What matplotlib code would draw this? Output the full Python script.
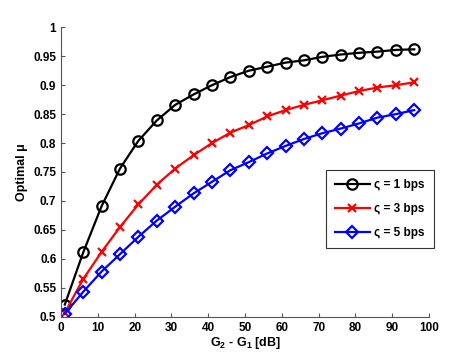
import numpy as np
import matplotlib
matplotlib.use("Agg")
import matplotlib.pyplot as plt

plt.rcParams['font.family'] = ['Liberation Sans', 'DejaVu Sans']
plt.rcParams['font.weight'] = 'bold'
plt.rcParams['mathtext.fontset'] = 'custom'
plt.rcParams['mathtext.rm'] = 'Liberation Sans:bold'
plt.rcParams['mathtext.it'] = 'Liberation Sans:bold'
plt.rcParams['mathtext.bf'] = 'Liberation Sans:bold'
plt.rcParams['mathtext.default'] = 'rm'

# gain difference in dB
gdiff = [1, 6, 11, 16, 21, 26, 31, 36, 41, 46, 51, 56, 61, 66, 71, 76, 81, 86, 91, 96]

mu_1bps = [0.521, 0.611, 0.691, 0.756, 0.804, 0.839, 0.866, 0.884, 0.900, 0.914,
           0.925, 0.932, 0.939, 0.943, 0.949, 0.953, 0.956, 0.958, 0.961, 0.962]
mu_3bps = [0.507, 0.565, 0.612, 0.655, 0.694, 0.728, 0.756, 0.779, 0.800, 0.818,
           0.831, 0.846, 0.857, 0.866, 0.874, 0.882, 0.890, 0.896, 0.900, 0.905]
mu_5bps = [0.505, 0.543, 0.578, 0.608, 0.638, 0.666, 0.690, 0.713, 0.733, 0.753,
           0.767, 0.782, 0.795, 0.807, 0.817, 0.825, 0.834, 0.844, 0.850, 0.857]

labels = ['ς = 1 bps', 'ς = 3 bps', 'ς = 5 bps']
yticks = [0.5, 0.55, 0.6, 0.65, 0.7, 0.75, 0.8, 0.85, 0.9, 0.95, 1]
ytick_labels = ['0.5', '0.55', '0.6', '0.65', '0.7', '0.75', '0.8', '0.85', '0.9', '0.95', '1']

fig = plt.figure(figsize=(4.74, 3.55), dpi=100)
ax = fig.add_axes([0.129, 0.108, 0.776, 0.815])

ax.plot(gdiff, mu_1bps, '-o', color='black', lw=1.6, ms=7.5, mfc='none', mew=1.6, label=labels[0])
ax.plot(gdiff, mu_3bps, '-x', color='red', lw=1.6, ms=6, mew=1.6, label=labels[1])
ax.plot(gdiff, mu_5bps, '-D', color='blue', lw=1.6, ms=6.5, mfc='none', mew=1.6, label=labels[2])

ax.set_xlim(0, 100)
ax.set_ylim(0.5, 1)
ax.set_xticks(np.arange(0, 101, 10))
ax.set_xticklabels([str(v) for v in range(0, 101, 10)], fontweight='bold', fontsize=8.5)
ax.set_yticks(yticks)
ax.set_yticklabels(ytick_labels, fontweight='bold', fontsize=8.5)
ax.tick_params(direction='in', length=3, color='#555555', width=0.8)
ax.spines['top'].set_visible(False)
ax.spines['right'].set_visible(False)
ax.spines['left'].set_color('#555555')
ax.spines['bottom'].set_color('#555555')

ax.set_xlabel('G$_2$ - G$_1$ [dB]', fontsize=9, fontweight='bold', labelpad=1)
ax.set_ylabel('Optimal μ', fontsize=9, fontweight='bold', labelpad=4)

leg = ax.legend(loc='upper left', bbox_to_anchor=(0.71, 0.52), fontsize=8.5, frameon=True,
                fancybox=False, edgecolor='black', handlelength=2.9, borderpad=0.8,
                labelspacing=1.0, handletextpad=0.4, borderaxespad=0.3,
                prop={'weight': 'bold', 'size': 8.5})
leg.get_frame().set_linewidth(0.8)

plt.savefig('out.png', dpi=100)
